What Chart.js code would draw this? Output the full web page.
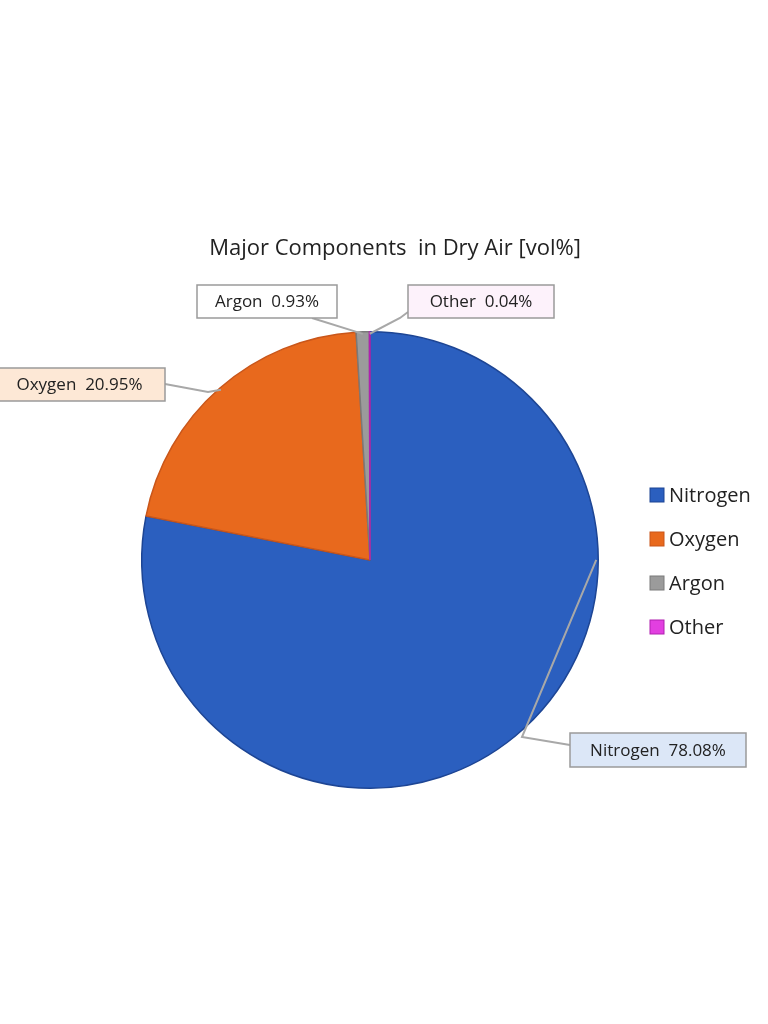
<!DOCTYPE html>
<html><head><meta charset="utf-8">
<script src="https://cdn.jsdelivr.net/npm/chart.js@4/dist/chart.umd.min.js"></script>
<style>html,body{margin:0;padding:0;background:#fff}#w{width:768px;height:1024px}</style>
</head><body><div id="w"><canvas id="c"></canvas></div>
<script>
const categories = ["Nitrogen", "Oxygen", "Argon", "Other"];
const values = [78.08, 20.95, 0.93, 0.04];
const colors = ["#2b5fbf", "#e8691d", "#9b9b9b", "#e23fe0"];
const borders = ["#1d4594", "#c9561a", "#7a7a7a", "#b020b0"];
const boxFills = ["#dce7f7", "#fde8d6", "#ffffff", "#fdf2fb"];
const titleText = "Major Components  in Dry Air [vol%]";
// box rects [x,y,w,h] and leader elbow points
const boxes = [[570,733,176,34],[-6,368,171,33],[197,285,140,33],[408,285,146,33]];
const elbows = [[522,737],[208,392],[312,318],[400,318]];
const boxAttach = [[570,745],[165,384],[312,318],[408,312]];

const font = "Open Sans, Noto Sans, sans-serif";
const deco = {
  id:'deco',
  afterDraw(chart){
    const ctx = chart.ctx;
    ctx.save();
    ctx.fillStyle = "#222";
    ctx.font = "22px " + font;
    ctx.textAlign = "center"; ctx.textBaseline = "middle";
    ctx.fillText(titleText, 395, 249);
    const meta = chart.getDatasetMeta(0);
    meta.data.forEach((arc, i) => {
      const p = arc.getProps(['x','y','startAngle','endAngle','outerRadius']);
      let a = (p.startAngle + p.endAngle)/2;
      if (i===0) a = p.startAngle + (p.endAngle-p.startAngle)*0.32;
      const ax = p.x + Math.cos(a)*(p.outerRadius-2), ay = p.y + Math.sin(a)*(p.outerRadius-2);
      ctx.strokeStyle = "#a8a8a8"; ctx.lineWidth = 2;
      ctx.beginPath(); ctx.moveTo(boxAttach[i][0], boxAttach[i][1]);
      ctx.lineTo(elbows[i][0], elbows[i][1]); ctx.lineTo(ax, ay); ctx.stroke();
      const [bx,by,bw,bh] = boxes[i];
      ctx.fillStyle = boxFills[i]; ctx.fillRect(bx,by,bw,bh);
      ctx.strokeStyle = "#9a9a9a"; ctx.lineWidth = 1.5; ctx.strokeRect(bx,by,bw,bh);
      ctx.fillStyle = "#222"; ctx.font = "17px " + font; ctx.textAlign = "center";
      ctx.fillText(categories[i] + "  " + values[i].toFixed(2) + "%", bx+bw/2, by+bh/2+1);
    });
    // legend
    categories.forEach((c,i)=>{
      const y = 495 + i*44;
      ctx.fillStyle = colors[i]; ctx.fillRect(650, y-7, 14, 14);
      ctx.strokeStyle = borders[i]; ctx.lineWidth = 1; ctx.strokeRect(650, y-7, 14, 14);
      ctx.fillStyle = "#222"; ctx.font = "20px " + font; ctx.textAlign = "left";
      ctx.fillText(c, 669, y+1);
    });
    ctx.restore();
  }
};
new Chart(document.getElementById('c'), {
  type:'pie',
  data:{labels:categories, datasets:[{data:values, backgroundColor:colors, borderColor:borders, borderWidth:1.5}]},
  options:{
    responsive:true, maintainAspectRatio:false, animation:false,
    layout:{padding:{left:138, right:166, top:331, bottom:235}},
    plugins:{legend:{display:false}, tooltip:{enabled:false}}
  },
  plugins:[deco]
});
</script></body></html>
